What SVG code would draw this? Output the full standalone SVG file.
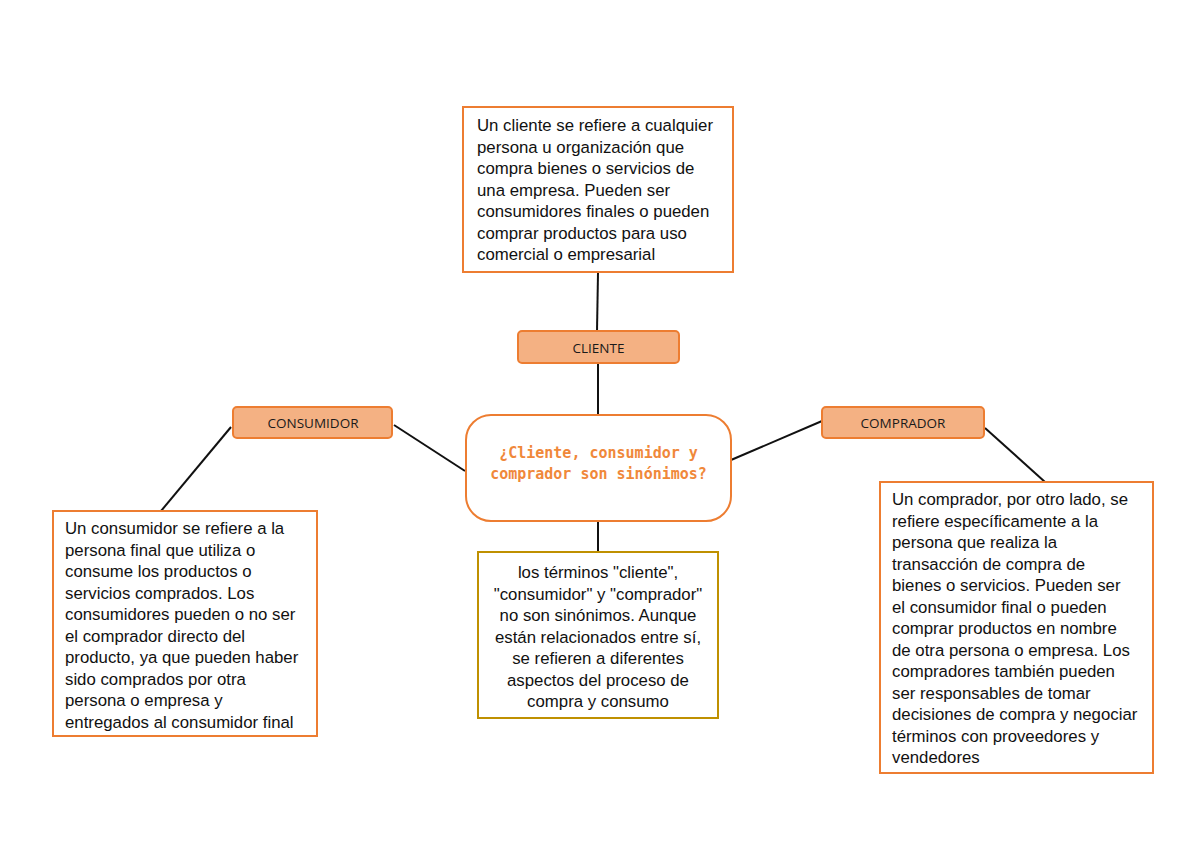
<svg xmlns="http://www.w3.org/2000/svg" width="1200" height="848" viewBox="0 0 1200 848">
<style>
.bg{fill:#ffffff}
.box{fill:#ffffff;stroke:#ED7D31;stroke-width:2}
.gold{fill:#ffffff;stroke:#BF9000;stroke-width:2}
.tag{fill:#F4B183;stroke:#ED7D31;stroke-width:2}
.main{fill:#ffffff;stroke:#ED7D31;stroke-width:2}
.t{font-family:"Liberation Sans",Arial,sans-serif;font-size:16.8px;fill:#111111}
.tc{font-family:"Liberation Sans",Arial,sans-serif;font-size:16.8px;fill:#111111;text-anchor:middle}
.lab{font-family:"Open Sans","Liberation Sans",sans-serif;font-size:13.5px;fill:#1a1a1a;text-anchor:middle}
.q{font-family:"DejaVu Sans Mono","Liberation Mono",monospace;font-size:15px;font-weight:bold;fill:#F0883A;text-anchor:middle}
.ln{stroke:#111111;stroke-width:2;fill:none}
</style>
<rect class="bg" x="0" y="0" width="1200" height="848"/>
<g id="connectors">
<line class="ln" x1="598" y1="273" x2="597" y2="331"/>
<line class="ln" x1="598" y1="364" x2="598" y2="415"/>
<line class="ln" x1="598" y1="522" x2="598" y2="552"/>
<line class="ln" x1="394" y1="425" x2="465" y2="471"/>
<line class="ln" x1="231" y1="427" x2="161" y2="511"/>
<line class="ln" x1="731" y1="460" x2="822" y2="421"/>
<line class="ln" x1="985" y1="428" x2="1045" y2="482"/>
</g>
<g id="cliente-def">
<rect class="box" x="463" y="107" width="270" height="165"/>
<text class="t" x="477" y="131">Un cliente se refiere a cualquier</text>
<text class="t" x="477" y="152.5">persona u organización que</text>
<text class="t" x="477" y="174">compra bienes o servicios de</text>
<text class="t" x="477" y="195.5">una empresa. Pueden ser</text>
<text class="t" x="477" y="217">consumidores finales o pueden</text>
<text class="t" x="477" y="238.5">comprar productos para uso</text>
<text class="t" x="477" y="260">comercial o empresarial</text>
</g>
<g id="cliente">
<rect class="tag" x="518" y="331" width="161" height="32" rx="4"/>
<text class="lab" x="598.5" y="352.5">CLIENTE</text>
</g>
<g id="pregunta">
<rect class="main" x="466" y="415" width="265" height="106" rx="25"/>
<text class="q" x="598.5" y="458">¿Cliente, consumidor y</text>
<text class="q" x="598.5" y="479">comprador son sinónimos?</text>
</g>
<g id="respuesta">
<rect class="gold" x="478" y="552" width="240" height="166"/>
<text class="tc" x="598" y="578">los términos "cliente",</text>
<text class="tc" x="598" y="599.5">"consumidor" y "comprador"</text>
<text class="tc" x="598" y="621">no son sinónimos. Aunque</text>
<text class="tc" x="598" y="642.5">están relacionados entre sí,</text>
<text class="tc" x="598" y="664">se refieren a diferentes</text>
<text class="tc" x="598" y="685.5">aspectos del proceso de</text>
<text class="tc" x="598" y="707">compra y consumo</text>
</g>
<g id="consumidor">
<rect class="tag" x="233" y="407" width="159" height="31" rx="4"/>
<text class="lab" x="313" y="428">CONSUMIDOR</text>
</g>
<g id="consumidor-def">
<rect class="box" x="53" y="511" width="264" height="225"/>
<text class="t" x="65" y="534">Un consumidor se refiere a la</text>
<text class="t" x="65" y="555.5">persona final que utiliza o</text>
<text class="t" x="65" y="577">consume los productos o</text>
<text class="t" x="65" y="598.5">servicios comprados. Los</text>
<text class="t" x="65" y="620">consumidores pueden o no ser</text>
<text class="t" x="65" y="641.5">el comprador directo del</text>
<text class="t" x="65" y="663">producto, ya que pueden haber</text>
<text class="t" x="65" y="684.5">sido comprados por otra</text>
<text class="t" x="65" y="706">persona o empresa y</text>
<text class="t" x="65" y="727.5">entregados al consumidor final</text>
</g>
<g id="comprador">
<rect class="tag" x="822" y="407" width="162" height="31" rx="4"/>
<text class="lab" x="903" y="428">COMPRADOR</text>
</g>
<g id="comprador-def">
<rect class="box" x="880" y="482" width="273" height="291"/>
<text class="t" x="892" y="505">Un comprador, por otro lado, se</text>
<text class="t" x="892" y="526.5">refiere específicamente a la</text>
<text class="t" x="892" y="548">persona que realiza la</text>
<text class="t" x="892" y="569.5">transacción de compra de</text>
<text class="t" x="892" y="591">bienes o servicios. Pueden ser</text>
<text class="t" x="892" y="612.5">el consumidor final o pueden</text>
<text class="t" x="892" y="634">comprar productos en nombre</text>
<text class="t" x="892" y="655.5">de otra persona o empresa. Los</text>
<text class="t" x="892" y="677">compradores también pueden</text>
<text class="t" x="892" y="698.5">ser responsables de tomar</text>
<text class="t" x="892" y="720">decisiones de compra y negociar</text>
<text class="t" x="892" y="741.5">términos con proveedores y</text>
<text class="t" x="892" y="763">vendedores</text>
</g>
</svg>
